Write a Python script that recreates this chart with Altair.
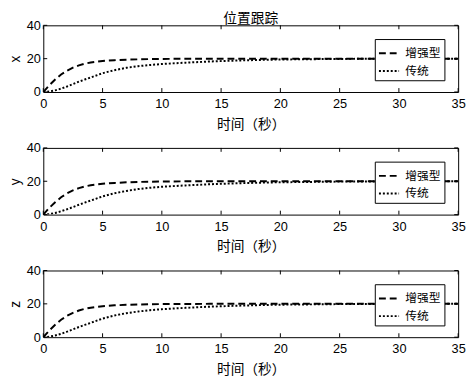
import altair as alt
import pandas as pd

# time samples (s)
T = [0, 0.5, 1, 1.5, 2, 2.5, 3, 3.5, 4, 5, 6, 7, 8, 9, 10, 12, 14, 16, 18, 20, 25, 30, 35]

# enhanced (增强型) responses
X_ENH = [0, 4, 7.5, 10.5, 12.8, 14.6, 16, 17, 17.7, 18.6, 19.1, 19.4, 19.6, 19.75, 19.85, 19.95, 20, 20, 20, 20, 20, 20, 20]
Y_ENH = [0, 4, 7.4, 10.4, 12.7, 14.5, 15.9, 16.9, 17.6, 18.5, 19.0, 19.35, 19.6, 19.75, 19.85, 19.95, 20, 20, 20, 20, 20, 20, 20]
Z_ENH = [0, 4, 7.5, 10.5, 12.8, 14.6, 16, 17, 17.7, 18.6, 19.1, 19.4, 19.6, 19.75, 19.85, 19.95, 20, 20, 20, 20, 20, 20, 20]

# traditional (传统) responses
X_TRA = [0, 0.3, 1, 2, 3.3, 4.7, 6.2, 7.5, 8.7, 11.3, 13.1, 14.5, 15.5, 16.2, 16.8, 17.6, 18.3, 18.8, 19.2, 19.5, 19.85, 20, 20]
Y_TRA = [0, 0.3, 1, 2, 3.2, 4.5, 5.9, 7.2, 8.4, 10.9, 12.8, 14.2, 15.3, 16.1, 16.7, 17.5, 18.2, 18.7, 19.1, 19.4, 19.8, 20, 20]
Z_TRA = [0, 0.3, 1, 2, 3.3, 4.7, 6.1, 7.4, 8.6, 11.2, 13.0, 14.4, 15.4, 16.2, 16.8, 17.6, 18.3, 18.8, 19.2, 19.5, 19.85, 20, 20]

SERIES = ["增强型", "传统"]
X_TICKS = [0, 5, 10, 15, 20, 25, 30, 35]
Y_TICKS = [0, 20, 40]
PANEL_LABELS = ["x", "y", "z"]
TITLE = "位置跟踪"
X_TITLE = "时间（秒）"

W, H = 423, 68
NUM_FONT = "Liberation Sans, Arial, sans-serif"
CJK_FONT = "Noto Sans CJK SC, sans-serif"


def panel(label, enh, tra, title=None):
    df = pd.DataFrame({
        "t": T * 2,
        "v": enh + tra,
        "s": [SERIES[0]] * len(T) + [SERIES[1]] * len(T),
    })
    xs = alt.Scale(domain=[0, 35], nice=False)
    ys = alt.Scale(domain=[0, 40], nice=False)
    xa = alt.Axis(title=X_TITLE, values=X_TICKS, ticks=False, domain=False, grid=False,
                  labelFlush=False, labelOverlap=False,
                  labelFont=NUM_FONT, labelFontSize=13, labelColor="black", labelPadding=6,
                  titleFont=CJK_FONT, titleFontSize=14, titleFontWeight="normal",
                  titleColor="black", titlePadding=7)
    ya = alt.Axis(title=label, values=Y_TICKS, ticks=False, domain=False, grid=False,
                  labelFlush=False, labelOverlap=False, labelBound=False,
                  labelFont=NUM_FONT, labelFontSize=13, labelColor="black", labelPadding=3,
                  titleFont=NUM_FONT, titleFontSize=14, titleFontWeight="normal",
                  titleColor="black", titlePadding=4)
    lines = alt.Chart(df).mark_line(color="black", strokeWidth=2, clip=True).encode(
        x=alt.X("t:Q", scale=xs, axis=xa),
        y=alt.Y("v:Q", scale=ys, axis=ya),
        strokeDash=alt.StrokeDash("s:N", scale=alt.Scale(domain=SERIES, range=[[7, 4], [2, 2]]),
                                  legend=alt.Legend(title=None, orient="top-right", offset=14,
                                                    strokeColor="black", fillColor="white",
                                                    padding=3, cornerRadius=0,
                                                    symbolType="stroke", symbolSize=420,
                                                    symbolStrokeWidth=2, symbolStrokeColor="black",
                                                    labelFont=CJK_FONT, labelFontSize=12, labelOffset=5,
                                                    labelColor="black", rowPadding=-8)),
        order="s:N",
    )
    xt = pd.DataFrame({"t": X_TICKS})
    yt = pd.DataFrame({"v": Y_TICKS})
    tb = alt.Chart(xt).mark_rule(color="black", strokeWidth=1).encode(
        x=alt.X("t:Q", scale=xs, axis=xa), y=alt.value(0), y2=alt.value(4))
    bb = alt.Chart(xt).mark_rule(color="black", strokeWidth=1).encode(
        x=alt.X("t:Q", scale=xs, axis=xa), y=alt.value(H), y2=alt.value(H - 4))
    lt = alt.Chart(yt).mark_rule(color="black", strokeWidth=1).encode(
        y=alt.Y("v:Q", scale=ys, axis=ya), x=alt.value(0), x2=alt.value(4))
    rt = alt.Chart(yt).mark_rule(color="black", strokeWidth=1).encode(
        y=alt.Y("v:Q", scale=ys, axis=ya), x=alt.value(W), x2=alt.value(W - 4))
    ch = alt.layer(lines, tb, bb, lt, rt).properties(width=W, height=H)
    if title:
        ch = ch.properties(title=alt.TitleParams(title, font=CJK_FONT, fontSize=14, fontWeight="normal",
                                                 color="black", anchor="middle", offset=-7))
    return ch


chart = alt.vconcat(
    panel(PANEL_LABELS[0], X_ENH, X_TRA, TITLE),
    panel(PANEL_LABELS[1], Y_ENH, Y_TRA),
    panel(PANEL_LABELS[2], Z_ENH, Z_TRA),
    spacing=9,
).resolve_scale(strokeDash="independent").resolve_legend(strokeDash="independent").configure_view(
    stroke="black", strokeWidth=1
).properties(padding={"left": 0, "top": 0, "right": 0, "bottom": 0})

chart.save("out.html", embed_options={"renderer": "svg", "actions": False})
